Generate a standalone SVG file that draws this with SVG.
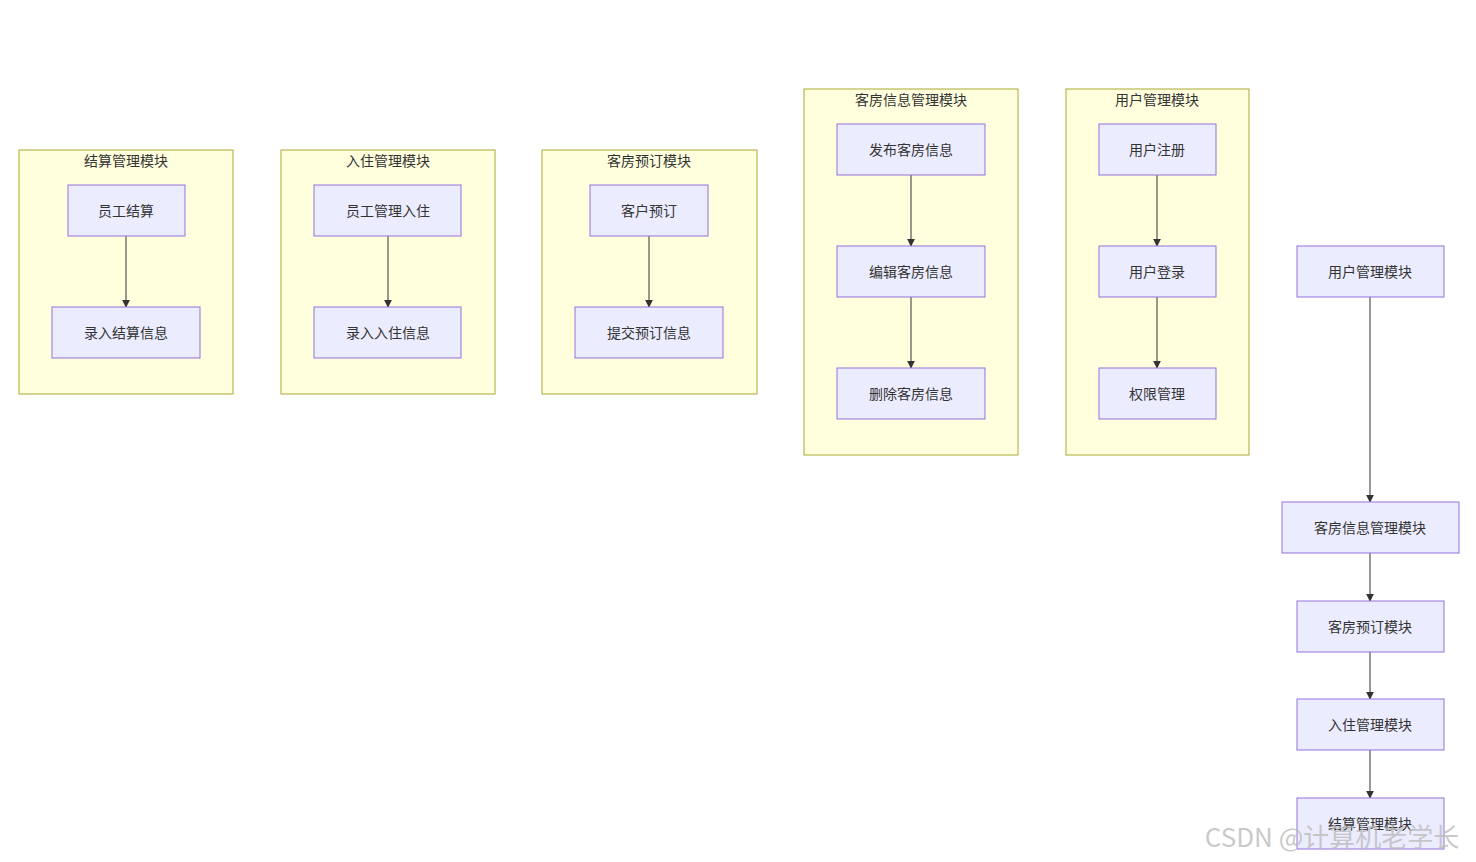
<svg xmlns="http://www.w3.org/2000/svg" width="1476" height="862" viewBox="0 0 1476 862">
<style>
.c{fill:#ffffde;stroke:#aaaa33;stroke-width:1}
.n{fill:#ECECFF;stroke:#9370DB;stroke-width:1}
text{font-family:"Noto Sans CJK SC","Liberation Sans",sans-serif;font-size:14px;fill:#333;text-anchor:middle;dominant-baseline:central}
.e{stroke:#333;stroke-width:1;fill:none;marker-end:url(#a)}
</style>
<defs><marker id="a" viewBox="0 0 10 10" refX="9" refY="5" markerWidth="8" markerHeight="8" orient="auto"><path d="M0,0L10,5L0,10z" fill="#333"/></marker></defs>
<rect width="1476" height="862" fill="#fff"/>
<g id="cl1"><rect class="c" x="19" y="150" width="214" height="244"/><text x="126" y="160">结算管理模块</text></g>
<g id="cl2"><rect class="c" x="281" y="150" width="214" height="244"/><text x="388" y="160">入住管理模块</text></g>
<g id="cl3"><rect class="c" x="542" y="150" width="215" height="244"/><text x="649" y="160">客房预订模块</text></g>
<g id="cl4"><rect class="c" x="804" y="89" width="214" height="366"/><text x="911" y="99">客房信息管理模块</text></g>
<g id="cl5"><rect class="c" x="1066" y="89" width="183" height="366"/><text x="1157" y="99">用户管理模块</text></g>
<g id="edges">
<path class="e" d="M126,236V307"/><path class="e" d="M388,236V307"/><path class="e" d="M649,236V307"/>
<path class="e" d="M911,175V246"/><path class="e" d="M911,297V368"/>
<path class="e" d="M1157,175V246"/><path class="e" d="M1157,297V368"/>
<path class="e" d="M1370,297V502"/><path class="e" d="M1370,553V601"/><path class="e" d="M1370,652V699"/><path class="e" d="M1370,750V798"/>
</g>
<g id="n1"><rect class="n" x="68" y="185" width="117" height="51"/><text x="126" y="210">员工结算</text></g>
<g id="n2"><rect class="n" x="52" y="307" width="148" height="51"/><text x="126" y="332">录入结算信息</text></g>
<g id="n3"><rect class="n" x="314" y="185" width="147" height="51"/><text x="388" y="210">员工管理入住</text></g>
<g id="n4"><rect class="n" x="314" y="307" width="147" height="51"/><text x="388" y="332">录入入住信息</text></g>
<g id="n5"><rect class="n" x="590" y="185" width="118" height="51"/><text x="649" y="210">客户预订</text></g>
<g id="n6"><rect class="n" x="575" y="307" width="148" height="51"/><text x="649" y="332">提交预订信息</text></g>
<g id="n7"><rect class="n" x="837" y="124" width="148" height="51"/><text x="911" y="149">发布客房信息</text></g>
<g id="n8"><rect class="n" x="837" y="246" width="148" height="51"/><text x="911" y="271">编辑客房信息</text></g>
<g id="n9"><rect class="n" x="837" y="368" width="148" height="51"/><text x="911" y="393">删除客房信息</text></g>
<g id="n10"><rect class="n" x="1099" y="124" width="117" height="51"/><text x="1157" y="149">用户注册</text></g>
<g id="n11"><rect class="n" x="1099" y="246" width="117" height="51"/><text x="1157" y="271">用户登录</text></g>
<g id="n12"><rect class="n" x="1099" y="368" width="117" height="51"/><text x="1157" y="393">权限管理</text></g>
<g id="n13"><rect class="n" x="1297" y="246" width="147" height="51"/><text x="1370" y="271">用户管理模块</text></g>
<g id="n14"><rect class="n" x="1282" y="502" width="177" height="51"/><text x="1370" y="527">客房信息管理模块</text></g>
<g id="n15"><rect class="n" x="1297" y="601" width="147" height="51"/><text x="1370" y="626">客房预订模块</text></g>
<g id="n16"><rect class="n" x="1297" y="699" width="147" height="51"/><text x="1370" y="724">入住管理模块</text></g>
<g id="n17"><rect class="n" x="1297" y="798" width="147" height="51"/><text x="1370" y="823">结算管理模块</text></g>
<text x="1332" y="835" style="font-size:26px;fill:#bbb;fill-opacity:0.8">CSDN @计算机老学长</text>
</svg>
